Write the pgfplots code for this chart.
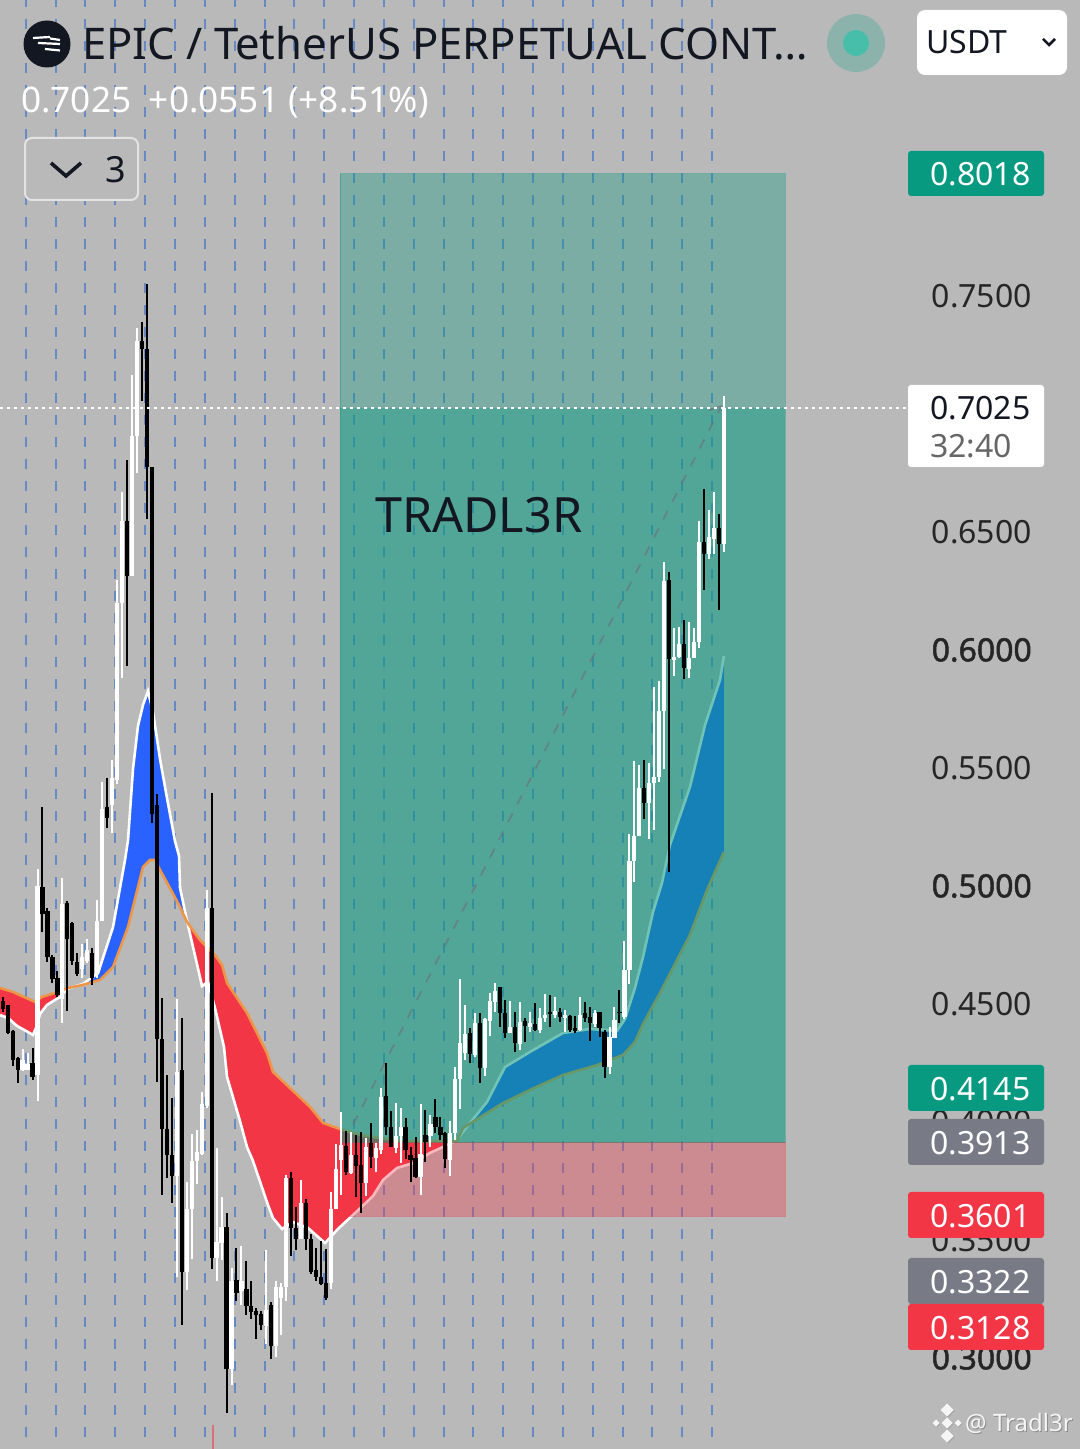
\documentclass[border=0pt]{standalone}
\usepackage{fontspec}
\setmainfont{Noto Sans}
\newfontfamily\boldnum{Noto Sans}[FakeBold=1.6]
\usepackage{pgfplots}
\usepackage{pgfplotstable}
\pgfplotsset{compat=1.18}
\usepgfplotslibrary{fillbetween}
\usetikzlibrary{arrows.meta}

\definecolor{bgGray}{RGB}{185,185,185}
\definecolor{tvGreen}{HTML}{089981}
\definecolor{tvRed}{HTML}{F23645}
\definecolor{tvBlue}{HTML}{2962FF}
\definecolor{tvGray}{HTML}{787B86}
\definecolor{tvOrange}{HTML}{EE9648}
\definecolor{gridBlue}{RGB}{104,138,196}
\definecolor{inkDark}{HTML}{131722}

% candles that closed up: index, high, low, body top, body bottom
\pgfplotstableread{
k h l t b
4 .4309 .4216 .4263 .4220
5 .4292 .4220 .4246 .4220
7 .5072 .4089 .5000 .4199
12 .5034 .4420 .4924 .4521
16 .4754 .4610 .4699 .4648
17 .4775 .4674 .4729 .4682
19 .4941 .4610 .4852 .4627
20 .5441 .4852 .5326 .4852
22 .5534 .5224 .5458 .5343
23 .6297 .5432 .6199 .5449
24 .6670 .5881 .6547 .6199
26 .7165 .6314 .6907 .6314
27 .7365 .6750 .7309 .6907
35 .4521 .3343 .4212 .3771
37 .3746 .3288 .3631 .3364
38 .3949 .3419 .3835 .3631
39 .3966 .3737 .3873 .3835
40 .4127 .3860 .4076 .3864
41 .4983 .4059 .4907 .4068
43 .3890 .3326 .3492 .3424
44 .3682 .3415 .3555 .3487
46 .3381 .2886 .3326 .2953
48 .3475 .3225 .3326 .3284
53 .3458 .3059 .3203 .3136
55 .3326 .3004 .3301 .3051
56 .3318 .3097 .3301 .3254
57 .3775 .3242 .3763 .3301
60 .3754 .3504 .3657 .3504
66 .3703 .3292 .3631 .3318
67 .3907 .3631 .3801 .3631
68 .4042 .3691 .3903 .3839
70 .3958 .3780 .3860 .3784
73 .3932 .3686 .3894 .3742
75 .3911 .3788 .3890 .3847
76 .4144 .3864 .4106 .3881
79 .4080 .3869 .3941 .3890
80 .4059 .3826 .3979 .3941
84 .4076 .3691 .3864 .3767
86 .4030 .3894 .3992 .3941
90 .4004 .3771 .3953 .3839
91 .4233 .3924 .4182 .3953
92 .4606 .4055 .4335 .4182
93 .4496 .4263 .4373 .4292
95 .4462 .4275 .4420 .4284
97 .4441 .4195 .4436 .4229
98 .4547 .4364 .4513 .4428
99 .4589 .4466 .4555 .4509
102 .4513 .4377 .4403 .4377
104 .4509 .4305 .4424 .4331
106 .4466 .4381 .4420 .4403
108 .4483 .4377 .4441 .4390
109 .4542 .4424 .4454 .4441
111 .4530 .4441 .4470 .4454
113 .4475 .4381 .4454 .4441
116 .4530 .4386 .4454 .4390
119 .4475 .4403 .4462 .4415
122 .4403 .4203 .4360 .4233
123 .4487 .4356 .4432 .4356
125 .4767 .4436 .4644 .4445
126 .5220 .4585 .5106 .4644
127 .5530 .5017 .5212 .5106
128 .5513 .5212 .5415 .5212
130 .5521 .5199 .5436 .5352
131 .5843 .5237 .5462 .5436
132 .5869 .5441 .5742 .5462
133 .6373 .5496 .6292 .5742
135 .6095 .5890 .5970 .5958
136 .6097 .5966 .6025 .5970
138 .6119 .5881 .5966 .5919
139 .6093 .5966 .6034 .5966
140 .6547 .6008 .6458 .6034
142 .6593 .6386 .6479 .6407
143 .6670 .6407 .6517 .6470
145 .7076 .6415 .7025 .6449
}\upcandles

% candles that closed down
\pgfplotstableread{
k h l t b
0 .4530 .4466 .4513 .4479
1 .4496 .4373 .4496 .4377
2 .4390 .4237 .4386 .4263
3 .4275 .4165 .4271 .4220
6 .4314 .4178 .4250 .4191
8 .5335 .4805 .4996 .4881
9 .4907 .4678 .4894 .4699
10 .4708 .4589 .4699 .4606
11 .4640 .4530 .4610 .4538
13 .4936 .4470 .4928 .4775
14 .4847 .4665 .4843 .4682
15 .4716 .4619 .4678 .4627
18 .4737 .4581 .4716 .4610
21 .5458 .5246 .5335 .5288
25 .6805 .5932 .6547 .6314
28 .7390 .7055 .7309 .7275
29 .7551 .6555 .7275 .6775
30 .6775 .5267 .6775 .5305
31 .5390 .4169 .5343 .4352
32 .4525 .3691 .4352 .3970
33 .4199 .3763 .3970 .3860
34 .4102 .3657 .3860 .3771
36 .4441 .3140 .4220 .3364
42 .5394 .3377 .4907 .3424
45 .3614 .2767 .3555 .2953
47 .3466 .3242 .3331 .3275
49 .3411 .3182 .3292 .3220
50 .3326 .3165 .3220 .3195
51 .3212 .3081 .3199 .3182
52 .3199 .3119 .3186 .3140
54 .3237 .2996 .3225 .3051
58 .3788 .3432 .3763 .3551
59 .3640 .3458 .3551 .3504
61 .3674 .3458 .3657 .3504
62 .3525 .3356 .3504 .3364
63 .3466 .3326 .3373 .3343
64 .3496 .3309 .3343 .3314
65 .3462 .3246 .3318 .3254
69 .3962 .3775 .3898 .3788
71 .3945 .3682 .3860 .3814
72 .3958 .3614 .3818 .3742
74 .3996 .3805 .3911 .3852
77 .4250 .3945 .4110 .3979
78 .4047 .3894 .3979 .3894
81 .4017 .3843 .3979 .3881
82 .3894 .3746 .3860 .3839
83 .3936 .3763 .3847 .3767
85 .4051 .3831 .3945 .3915
87 .4097 .3953 .4021 .3979
88 .4021 .3924 .3979 .3945
89 .3958 .3805 .3953 .3843
94 .4398 .4250 .4377 .4288
96 .4462 .4165 .4420 .4229
100 .4572 .4403 .4572 .4462
101 .4517 .4356 .4462 .4377
103 .4466 .4297 .4403 .4335
105 .4441 .4339 .4428 .4407
107 .4504 .4386 .4415 .4390
110 .4538 .4403 .4466 .4458
112 .4483 .4424 .4466 .4445
114 .4454 .4381 .4449 .4390
115 .4449 .4377 .4398 .4386
117 .4509 .4424 .4462 .4441
118 .4487 .4343 .4445 .4420
120 .4466 .4360 .4466 .4398
121 .4390 .4186 .4381 .4233
124 .4559 .4420 .4466 .4462
129 .5534 .5284 .5415 .5352
134 .6331 .5059 .6297 .5962
137 .6127 .5877 .6025 .5924
141 .6682 .6254 .6458 .6407
144 .6576 .6169 .6517 .6449
}\downcandles

% fast and slow averages of the ribbon
\pgfplotstableread{
k p
-0.54 .4453
1.07 .4441
2.88 .4407
6.09 .4369
6.69 .4398
7.5 .4458
8.9 .4496
11.52 .4530
12.93 .4564
16.14 .4585
19.16 .4630
22.18 .4826
24.59 .5110
25.2 .5195
26.2 .5496
27.2 .5678
28.21 .5767
29.21 .5826
30.22 .5737
31.63 .5538
33.03 .5373
34.64 .5190
35.45 .5127
35.65 .4992
37.06 .4852
39.06 .4669
40.07 .4576
41.28 .4593
42.68 .4483
44.49 .4318
45.1 .4191
47.71 .4004
49.12 .3894
50.32 .3835
53.34 .3648
54.34 .3593
56.15 .3547
58.37 .3576
61.38 .3551
64.8 .3487
67.41 .3547
70.43 .3606
74.45 .3686
76.46 .3754
79.27 .3805
82.49 .3826
85.91 .3869
88.52 .3894
91.34 .3924
93.95 .3996
97.37 .4085
100.99 .4233
106.01 .4297
112.65 .4377
118.08 .4394
123.51 .4386
125.11 .4436
127.12 .4568
128.73 .4699
130.75 .4890
132.55 .5013
134.16 .5174
138.18 .5420
141.2 .5682
144.22 .5873
145 .5975
}\fastline

\pgfplotstableread{
k p
-0.54 .4568
2.07 .4551
6.49 .4509
7.9 .4530
11.12 .4551
13.13 .4568
16.14 .4581
19.56 .4602
22.18 .4657
25.19 .4826
26.2 .4911
28.21 .5081
29.61 .5110
30.62 .5110
31.63 .5068
34.04 .4975
35.65 .4911
37.06 .4847
39.67 .4771
42.68 .4708
44.09 .4665
45.1 .4589
49.12 .4462
53.14 .4292
54.34 .4212
57.76 .4144
61.78 .4064
64.4 .3996
67.82 .3970
71.84 .3945
79.88 .3919
91.34 .3919
92.55 .3975
100.59 .4080
106.01 .4136
112.65 .4199
119.49 .4241
124.71 .4284
127.12 .4339
128.73 .4415
132.15 .4547
138.18 .4793
141.6 .4983
145 .5144
}\slowline

\newcommand\lbl{\fontsize{32}{36}\selectfont}
\newcommand\pricebox[5]{%
  \fill[#3, rounded corners=3pt] (908,#1) rectangle (1044,#2);
  \node[anchor=west, inner sep=0pt, text=#4] at (930,{(#1+#2)/2+1}) {\lbl #5};
}

\begin{document}
\begin{tikzpicture}
\begin{axis}[
    at={(0,0)}, anchor=south west,
    scale only axis,
    width=1080pt, height=1449pt,
    xmin=-0.543, xmax=216.59,
    ymin=0.26143, ymax=0.87542,
    axis background/.style={fill=bgGray},
    axis line style={draw=none},
    major tick length=0pt,
    xtick={4.64,10.64,...,142.64},
    xticklabels={},
    xmajorgrids=true,
    grid style={draw=gridBlue, line width=2pt, dash pattern=on 10pt off 12pt, dash phase=10pt},
    ytick={0.30,0.35,0.40,0.45,0.50,0.55,0.60,0.65,0.70,0.75},
    yticklabels={{\boldnum 0.3000},0.3500,0.4000,0.4500,{\boldnum 0.5000},0.5500,{\boldnum 0.6000},0.6500,,0.7500},
    yticklabel pos=right,
    yticklabel style={anchor=east, inner sep=0pt, xshift=-48pt, text=black!85, font=\lbl},
]
% ribbon
\addplot[name path=fast, color=white, line width=2.6pt] table[x=k,y=p] {\fastline};
\addplot[name path=slow, color=tvOrange, line width=2.6pt] table[x=k,y=p] {\slowline};
\addplot[fill=tvRed, draw=none] fill between[of=fast and slow, soft clip={domain=-1:16.14}];
\addplot[fill=tvBlue, draw=none] fill between[of=fast and slow, soft clip={domain=16.14:37.06}];
\addplot[fill=tvRed, draw=none] fill between[of=fast and slow, soft clip={domain=37.06:91.34}];
\addplot[fill=tvBlue, draw=none] fill between[of=fast and slow, soft clip={domain=91.34:145}];

% position tool
\addplot[fill=tvGreen, fill opacity=.35, draw=tvGreen, draw opacity=.4, line width=1pt]
    coordinates {(67.82,.3913) (157.29,.3913) (157.29,.8018) (67.82,.8018)} --cycle;
\addplot[fill=tvGreen, fill opacity=.35, draw=none]
    coordinates {(67.82,.3913) (157.29,.3913) (157.29,.7025) (67.82,.7025)} --cycle;
\addplot[fill=tvRed, fill opacity=.35, draw=tvRed, draw opacity=.4, line width=1pt]
    coordinates {(67.82,.3601) (157.29,.3601) (157.29,.3913) (67.82,.3913)} --cycle;
\addplot[color=tvGray!90!black, opacity=.6, line width=1.8pt, dash pattern=on 10pt off 10pt,
    -{Straight Barb[length=9pt,width=18pt]}]
    coordinates {(68.6,.3913) (144.6,.7038)};

% candles
\addplot[draw=none, no markers, forget plot,
    error bars/.cd, y dir=plus, y explicit, error mark=none,
    error bar style={draw=white, line width=2pt, solid}]
    table[x=k, y=l, y error expr=\thisrow{h}-\thisrow{l}] {\upcandles};
\addplot[draw=none, no markers, forget plot,
    error bars/.cd, y dir=plus, y explicit, error mark=none,
    error bar style={draw=white, line width=4.2pt, solid}]
    table[x=k, y=b, y error expr=\thisrow{t}-\thisrow{b}] {\upcandles};
\addplot[draw=none, no markers, forget plot,
    error bars/.cd, y dir=plus, y explicit, error mark=none,
    error bar style={draw=black, line width=2pt, solid}]
    table[x=k, y=l, y error expr=\thisrow{h}-\thisrow{l}] {\downcandles};
\addplot[draw=none, no markers, forget plot,
    error bars/.cd, y dir=plus, y explicit, error mark=none,
    error bar style={draw=black, line width=4.2pt, solid}]
    table[x=k, y=b, y error expr=\thisrow{t}-\thisrow{b}] {\downcandles};

% last price line and the stray volume tick
\addplot[color=white, line width=1.6pt, dash pattern=on 2.5pt off 4.5pt]
    coordinates {(-0.543,.7025) (182,.7025)};
\addplot[color=tvRed!55!bgGray, line width=1.5pt]
    coordinates {(42.28,.26143) (42.28,.2716)};
\end{axis}

% everything around the plot, in reference pixels
\begin{scope}[x=1pt, y=-1pt, yshift=1449pt]
  % header
  \fill[inkDark] (47,44) circle (23.5);
  \draw[white, line width=2.2pt] (33,38)--(50,37) (50,38.5)--(60,40) (38,43)--(60,44) (45,49)--(60,50.5);
  \node[anchor=west, inner sep=0pt, text=inkDark] at (82,43) {\fontsize{43.6}{50}\selectfont EPIC / TetherUS PERPETUAL CONT…};
  \fill[fill={rgb,255:red,140;green,178;blue,172}] (856,43) circle (29);
  \fill[fill={rgb,255:red,70;green,190;blue,170}] (856,43) circle (13);
  \fill[white, rounded corners=8pt] (917,10) rectangle (1067,75);
  \node[anchor=west, inner sep=0pt, text=inkDark] at (926,42) {\fontsize{32}{36}\selectfont USDT};
  \draw[inkDark, line width=2.5pt] (1043,39)--(1049,45)--(1055,39);
  \node[anchor=west, inner sep=0pt, text=white] at (21,103) {\fontsize{35.2}{40}\selectfont 0.7025\hspace{.5em}+0.0551 (+8.51\%)};
  \draw[white!60!bgGray, fill=bgGray, line width=2pt, rounded corners=7pt] (25,138) rectangle (138,200);
  \draw[inkDark, line width=3.6pt] (51,163)--(66,176)--(81,163);
  \node[anchor=west, inner sep=0pt, text=inkDark] at (105,170) {\fontsize{36}{40}\selectfont 3};

  % annotation on the chart
  \node[anchor=west, inner sep=0pt, text=inkDark] at (375,515) {\fontsize{48.6}{54}\selectfont TRADL3R};

  % price scale boxes
  \pricebox{151}{196}{tvGreen}{white}{0.8018}
  \fill[white, rounded corners=3pt] (908,385) rectangle (1044,467);
  \node[anchor=west, inner sep=0pt, text=inkDark] at (930,408) {\lbl 0.7025};
  \node[anchor=west, inner sep=0pt, text=black!60] at (930,446) {\lbl 32:40};
  \pricebox{1065}{1111}{tvGreen}{white}{0.4145}
  \pricebox{1119}{1165}{tvGray}{white}{0.3913}
  \pricebox{1192}{1238}{tvRed}{white}{0.3601}
  \pricebox{1258}{1304}{tvGray}{white}{0.3322}
  \pricebox{1304}{1350}{tvRed}{white}{0.3128}

  % watermark
  \foreach \cx/\cy/\s in {947/1410/6.5, 947/1436/6.5, 936/1423/3.5, 958/1423/3.5, 947/1423/5.5}{
    \fill[black!35] (\cx+1,\cy-\s+1)--(\cx+\s+1,\cy+1)--(\cx+1,\cy+\s+1)--(\cx-\s+1,\cy+1)--cycle;
    \fill[white!85!bgGray] (\cx,\cy-\s)--(\cx+\s,\cy)--(\cx,\cy+\s)--(\cx-\s,\cy)--cycle;
  }
  \node[anchor=west, inner sep=0pt, text=black!45] at (966,1424) {\fontsize{24}{28}\selectfont @ Tradl3r};
  \node[anchor=west, inner sep=0pt, text=white!85!bgGray] at (965,1423) {\fontsize{24}{28}\selectfont @ Tradl3r};
\end{scope}
\pgfresetboundingbox
\path[use as bounding box] (0,0) rectangle (1080pt,1449pt);
\end{tikzpicture}
\end{document}
